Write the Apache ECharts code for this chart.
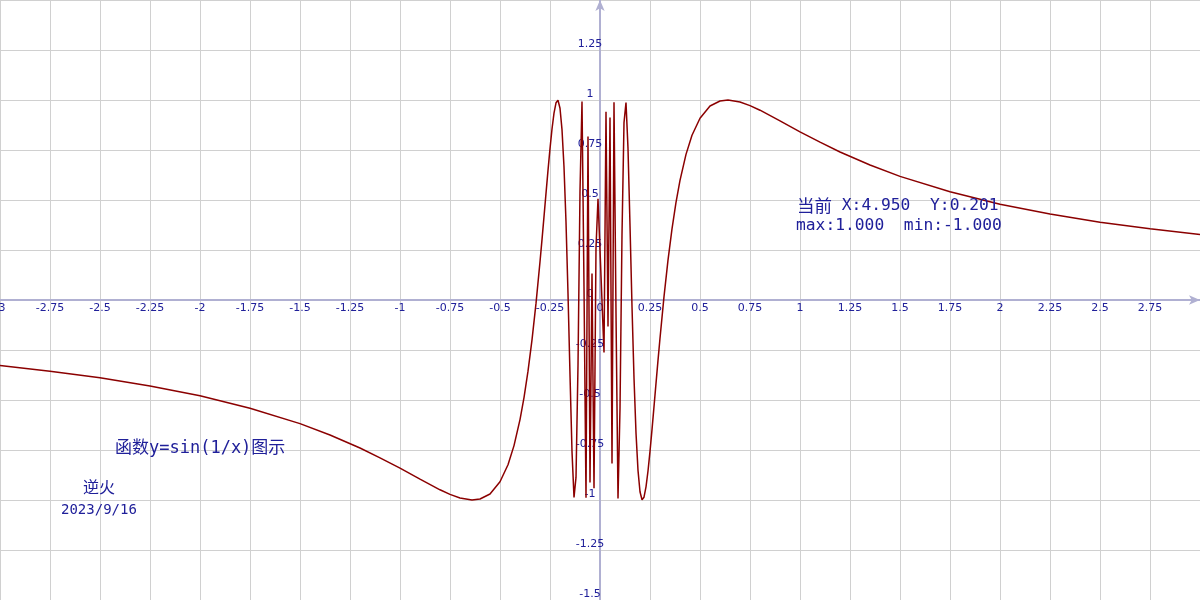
<!DOCTYPE html>
<html>
<head>
<meta charset="utf-8">
<script src="https://cdn.jsdelivr.net/npm/echarts@6/dist/echarts.min.js"></script>
<style>
html,body{margin:0;padding:0;background:#fff;}
#c{width:1200px;height:600px;}
</style>
</head>
<body>
<div id="c"></div>
<script>
// x positions of the plotted samples
const xs = [
  -3.00,-2.75,-2.50,-2.25,-2.00,-1.75,-1.50,-1.35,-1.20,-1.10,-1.00,-0.90,-0.80,-0.75,-0.70,-0.64,-0.60,-0.55,-0.50,-0.46,-0.43,-0.40,-0.38,-0.36,-0.34,-0.32,
  -0.30,-0.29,-0.28,-0.27,-0.26,-0.25,-0.24,-0.23,-0.22,-0.21,-0.20,-0.19,-0.18,-0.17,-0.16,-0.15,-0.14,-0.13,-0.12,-0.11,
  -0.10,-0.09,-0.08,-0.07,-0.06,-0.05,-0.04,-0.03,-0.02,-0.01,
  0.02,0.03,0.04,0.05,0.06,0.07,0.08,0.09,0.10,
  0.11,0.12,0.13,0.14,0.15,0.16,0.17,0.18,0.19,0.20,0.21,0.22,0.23,0.24,0.25,0.26,0.27,0.28,0.29,0.30,
  0.32,0.34,0.36,0.38,0.40,0.43,0.46,0.50,0.55,0.60,0.64,0.70,0.75,0.80,0.90,1.00,1.10,1.20,1.35,1.50,1.75,2.00,2.25,2.50,2.75,3.00
];
// y values at those positions
const ys = [
  -0.327,-0.356,-0.389,-0.430,-0.479,-0.541,-0.618,-0.675,-0.740,-0.789,-0.841,-0.896,-0.949,-0.972,-0.990,-1.000,-0.995,-0.970,-0.909,-0.824,-0.728,-0.598,-0.488,-0.356,-0.199,-0.017,
  0.191,0.302,0.417,0.533,0.648,0.757,0.855,0.934,0.986,0.999,0.959,0.852,0.665,0.390,0.033,-0.374,-0.758,-0.987,-0.887,-0.328,
  0.544,0.993,0.066,-0.989,0.818,-0.913,0.132,-0.941,0.262,0.506,
  -0.262,0.941,-0.132,0.913,-0.818,0.989,-0.066,-0.993,-0.544,
  0.328,0.887,0.987,0.758,0.374,-0.033,-0.390,-0.665,-0.852,-0.959,-0.999,-0.986,-0.934,-0.855,-0.757,-0.648,-0.533,-0.417,-0.302,-0.191,
  0.017,0.199,0.356,0.488,0.598,0.728,0.824,0.909,0.970,0.995,1.000,0.990,0.972,0.949,0.896,0.841,0.789,0.740,0.675,0.618,0.541,0.479,0.430,0.389,0.356,0.327
];
const infoPrefix = '当前';
const infoLine1 = ' X:4.950  Y:0.201';
const infoLine2 = 'max:1.000  min:-1.000';
const titleText = '函数y=sin(1/x)图示';
const authorText = '逆火';
const dateText = '2023/9/16';

const data = xs.map((x, i) => [x, ys[i]]);
const textColor = '#20209a';
const mono = '"DejaVu Sans Mono", "Noto Sans CJK SC", monospace';
const W = 1200, H = 600;

const chart = echarts.init(document.getElementById('c'), null, {renderer: 'canvas'});
chart.setOption({
  animation: false,
  backgroundColor: '#ffffff',
  grid: {left: 0, right: 0, top: 0, bottom: 0, containLabel: false, outerBoundsMode: 'none'},
  xAxis: {
    type: 'value', min: -3, max: 3, interval: 0.25,
    position: 'bottom', offset: -H / 2,
    axisLine: {show: true, onZero: false, symbol: ['none', 'arrow'], symbolSize: [7, 11],
      lineStyle: {color: '#b0b0d2', width: 2}},
    axisTick: {show: false},
    axisLabel: {show: true, color: textColor, fontSize: 11, fontFamily: '"DejaVu Sans", sans-serif',
      margin: 3, showMinLabel: true, showMaxLabel: false, hideOverlap: false},
    splitLine: {show: true, lineStyle: {color: '#d0d0d0', width: 1}}
  },
  yAxis: {
    type: 'value', min: -1.5, max: 1.5, interval: 0.25,
    position: 'left', offset: -W / 2,
    axisLine: {show: true, onZero: false, symbol: ['none', 'arrow'], symbolSize: [7, 11],
      lineStyle: {color: '#b0b0d2', width: 2}},
    axisTick: {show: false},
    axisLabel: {show: true, color: textColor, fontSize: 11, fontFamily: '"DejaVu Sans", sans-serif',
      margin: 10, align: 'center', verticalAlign: 'bottom', showMaxLabel: false, showMinLabel: true, hideOverlap: false},
    splitLine: {show: true, lineStyle: {color: '#d0d0d0', width: 1}}
  },
  series: [{
    type: 'line',
    data: data,
    showSymbol: false,
    symbol: 'none',
    lineStyle: {color: '#8b0000', width: 1.5},
    z: 3
  }],
  graphic: [
    {type: 'text', left: 797, top: 197, z: 10,
      style: {text: '{c|' + infoPrefix + '}' + infoLine1, fill: textColor, fontSize: 16.3, fontFamily: mono,
        rich: {c: {fontSize: 17.5, fontFamily: '"Noto Sans CJK SC", sans-serif', fill: textColor}}}},
    {type: 'text', left: 796, top: 218, z: 10,
      style: {text: infoLine2, fill: textColor, fontSize: 16.3, fontFamily: mono}},
    {type: 'text', left: 115, top: 440, z: 10,
      style: {text: titleText, fill: textColor, fontSize: 17, fontFamily: mono}},
    {type: 'text', left: 83, top: 481, z: 10,
      style: {text: authorText, fill: textColor, fontSize: 16, fontFamily: mono}},
    {type: 'text', left: 61, top: 503, z: 10,
      style: {text: dateText, fill: textColor, fontSize: 14, fontFamily: mono}}
  ]
});
</script>
</body>
</html>
